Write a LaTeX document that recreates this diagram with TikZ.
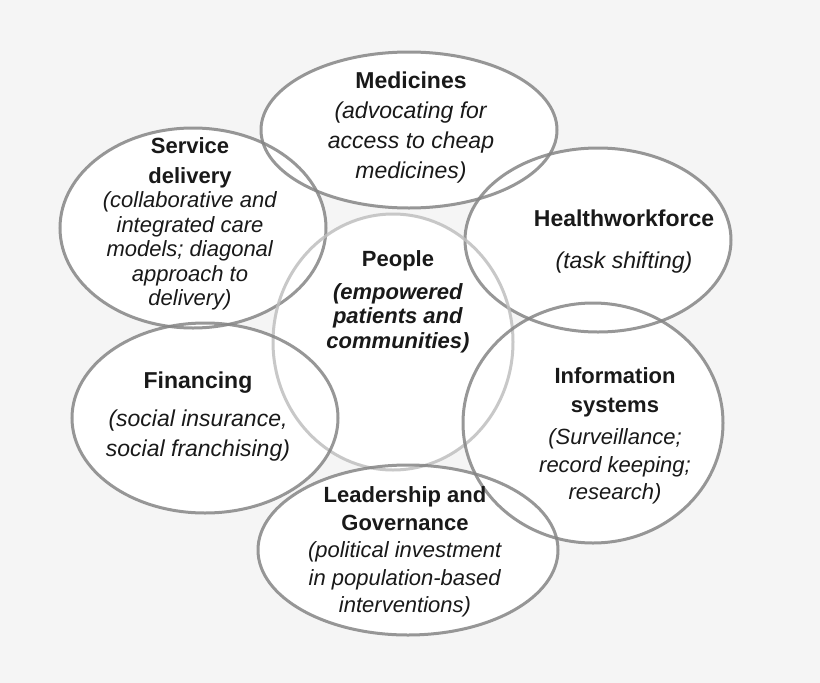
\documentclass[tikz,border=0pt]{standalone}
\usepackage{fontspec}
\setmainfont{Liberation Sans}
\begin{document}
\begin{tikzpicture}[x=1pt,y=-1pt,
  ell/.style={draw=black!48,line width=3pt,draw opacity=0.85},
  lbl/.style={align=center,font=\fontsize{23}{30}\selectfont,text=black!90},
  lbs/.style={align=center,font=\fontsize{22}{24.5}\selectfont,text=black!90}]
\useasboundingbox[fill=black!4] (0,0) rectangle (820,683);
\foreach \x/\y/\a/\b in {409/130/148/78,193/228/133/100,598/240/133/92,393/342/120/128,205/418/133/95,593/423/130/120,408/550/150/85}
  \fill[white] (\x,\y) ellipse [x radius=\a,y radius=\b];
\draw[ell] (409,130) ellipse [x radius=148,y radius=78];
\draw[ell] (193,228) ellipse [x radius=133,y radius=100];
\draw[ell] (598,240) ellipse [x radius=133,y radius=92];
\draw[ell,draw=black!25] (393,342) ellipse [x radius=120,y radius=128];
\draw[ell] (205,418) ellipse [x radius=133,y radius=95];
\draw[ell] (593,423) ellipse [x radius=130,y radius=120];
\draw[ell] (408,550) ellipse [x radius=150,y radius=85];
\node[lbl] (med) at (411,128) {\textbf{Medicines}\\\textit{(advocating for}\\\textit{access to cheap}\\\textit{medicines)}};
\node[lbs] (srv) at (190,224) {\textbf{Service}\\[5pt]\textbf{delivery}\\\textit{(collaborative and}\\\textit{integrated care}\\\textit{models; diagonal}\\\textit{approach to}\\\textit{delivery)}};
\node[lbl] (hw) at (624,242) {\textbf{Healthworkforce}\\[12pt]\textit{(task shifting)}};
\node[lbs] (ppl) at (398,302) {\textbf{People}\\[8pt]\textbf{\textit{(empowered}}\\\textbf{\textit{patients and}}\\\textbf{\textit{communities)}}};
\node[lbl] (fin) at (198,417) {\textbf{Financing}\\[8pt]\textit{(social insurance,}\\\textit{social franchising)}};
\node[lbs] (inf) at (615,436) {\textbf{Information}\\[4pt]\textbf{systems}\\[8pt]\textit{(Surveillance;}\\[3pt]\textit{record keeping;}\\[3pt]\textit{research)}};
\node[lbs] (lead) at (405,552) {\textbf{Leadership and}\\[3pt]\textbf{Governance}\\[3pt]\textit{(political investment}\\[3pt]\textit{in population-based}\\[3pt]\textit{interventions)}};
\end{tikzpicture}
\end{document}
